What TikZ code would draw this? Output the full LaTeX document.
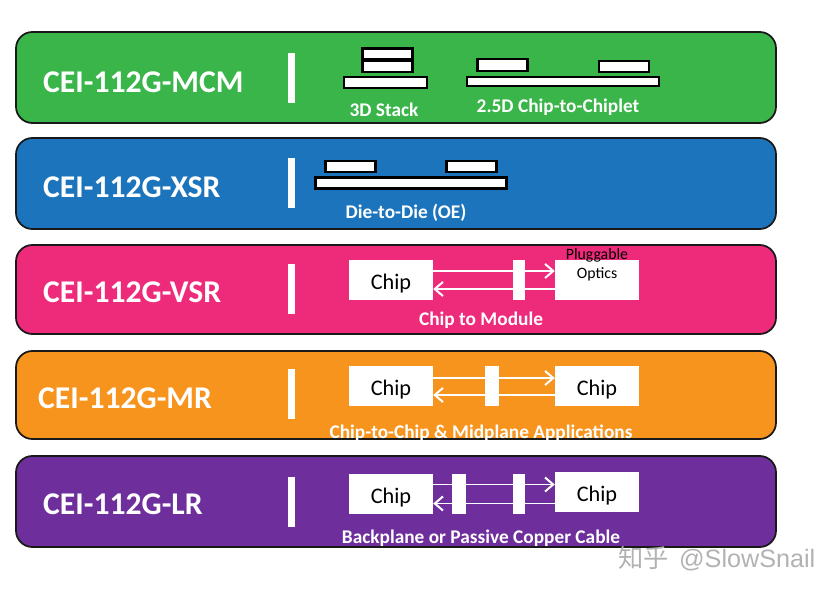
\documentclass[tikz,border=0pt]{standalone}
\usepackage{fontspec}
\setmainfont{Carlito}
\newfontfamily\cjkfont{Noto Sans CJK SC}
\newfontfamily\markfont{Liberation Sans}
\usepackage{xcolor}
\usetikzlibrary{arrows.meta, positioning}
\definecolor{mcmgreen}{HTML}{3AB54A}
\definecolor{xsrblue}{HTML}{1C75BC}
\definecolor{vsrpink}{HTML}{EE2A7B}
\definecolor{mrorange}{HTML}{F7941E}
\definecolor{lrpurple}{HTML}{6E2F9C}
\def\px{0.03cm}

\begin{document}
\begin{tikzpicture}[
      x=0.03cm, y=-0.03cm,
      band/.style={draw=black!90, line width=1.5pt, rounded corners=14pt,
                  minimum width=760*\px, inner sep=0pt},
      rowtitle/.style={anchor=west, text=white, font=\fontsize{27}{27}\selectfont\bfseries, inner sep=0pt},
      sepbar/.style={fill=white, minimum width=7*\px, minimum height=50*\px, inner sep=0pt},
      lbl/.style={text=white, font=\fontsize{16.5}{16.5}\selectfont\bfseries, inner sep=0pt},
      die/.style={draw=black, fill=white, line width=2.2pt, minimum width=50*\px, minimum height=11*\px, inner sep=0pt},
      subst/.style={draw=black, fill=white, line width=2.2pt, minimum height=10*\px, inner sep=0pt},
      chip/.style={fill=white, minimum width=84*\px, minimum height=40*\px, inner sep=0pt,
                  align=center, text height=17pt, text depth=0pt, font=\fontsize{19}{19}\selectfont},
      via/.style={fill=white, minimum height=40*\px, inner sep=0pt},
      sig/.style={-{Straight Barb[length=7pt,width=12pt]}, white, line width=1.7pt}
    ]
    \useasboundingbox (0,0) rectangle (833,593);

    % --- Coloured rows ---
    \node[band, fill=mcmgreen, minimum height=91*\px]  (mcm) at (396,77.5)  {};
    \node[band, fill=xsrblue,  minimum height=91*\px]  (xsr) at (396,183.5) {};
    \node[band, fill=vsrpink,  minimum height=89*\px]  (vsr) at (396,289.5) {};
    \node[band, fill=mrorange, minimum height=88*\px]  (mr)  at (396,395)   {};
    \node[band, fill=lrpurple, minimum height=91*\px]  (lr)  at (396,501.5) {};

    % --- Row titles ---
    \node[rowtitle] (mcmt) at (43,82)  {CEI-112G-MCM};
    \node[rowtitle] (xsrt) at (43,187) {CEI-112G-XSR};
    \node[rowtitle] (vsrt) at (43,292) {CEI-112G-VSR};
    \node[rowtitle] (mrt)  at (38,398) {CEI-112G-MR};
    \node[rowtitle] (lrt)  at (43,504) {CEI-112G-LR};

    % --- Separators ---
    \node[sepbar] (mcms) at (291.5,78)  {};
    \node[sepbar] (xsrs) at (291.5,183.5) {};
    \node[sepbar] (vsrs) at (291.5,289) {};
    \node[sepbar] (mrs)  at (291.5,394) {};
    \node[sepbar] (lrs)  at (291.5,502) {};

    % --- MCM row ---
    \node[die]  (top)  at (387.5,54)   {};
    \node[die]  (mid)  at (387.5,66.5) {};
    \node[subst, minimum width=83*\px, minimum height=11*\px] (sub) at (385.5,82.5) {};
    \node[lbl]  (stack) at (384,109.5) {3D Stack};
    \node[die, minimum height=12*\px] (left)  at (502.5,65) {};
    \node[die]  (right) at (624,66.5) {};
    \node[subst, minimum width=192*\px, minimum height=9*\px] (long) at (563,81.5) {};
    \node[lbl]  (chiplet) at (558,107) {2.5D Chip-to-Chiplet};

    % --- XSR row ---
    \node[die]  (dia) at (350.5,166.5) {};
    \node[die]  (dib) at (471.5,166.5) {};
    \node[subst, minimum width=191*\px, minimum height=11*\px] (dis) at (411,183) {};
    \node[lbl]  (oe) at (406,212.5) {Die-to-Die (OE)};

    % --- VSR row ---
    \node[chip] (vsra) at (391,280) {Chip};
    \node[chip, font=\fontsize{13.5}{16.2}\selectfont, text height=14pt, text depth=17.4pt] (vsrb) at (597,280) {Pluggable\\Optics};
    \draw[sig] (vsra.east |- 0,271) -- (vsrb.west |- 0,271);
    \draw[sig] (vsrb.west |- 0,289) -- (vsra.east |- 0,289);
    \node[via, minimum width=12*\px] (vsrv) at (518.5,280) {};
    \node[lbl] (module) at (481,320) {Chip to Module};

    % --- MR row ---
    \node[chip] (mra) at (391,386) {Chip};
    \node[chip] (mrb) at (597,386) {Chip};
    \draw[sig] (mra.east |- 0,378) -- (mrb.west |- 0,378);
    \draw[sig] (mrb.west |- 0,395) -- (mra.east |- 0,395);
    \node[via, minimum width=14*\px] (mrv) at (491.5,386) {};
    \node[lbl] (midplane) at (481,433.5) {Chip-to-Chip \& Midplane Applications};

    % --- LR row ---
    \node[chip] (lra) at (391,494) {Chip};
    \node[chip] (lrb) at (597,492) {Chip};
    \draw[sig] (lra.east |- 0,484.5) -- (lrb.west |- 0,484.5);
    \draw[sig] (lrb.west |- 0,503.5) -- (lra.east |- 0,503.5);
    \node[via, minimum width=14*\px] (lrv)  at (459,494) {};
    \node[via, minimum width=12*\px] (lrw)  at (519,494) {};
    \node[lbl] (cable) at (481,538.5) {Backplane or Passive Copper Cable};

    % --- Watermark ---
    \node[anchor=west, text=black!30, inner sep=0pt, font=\fontsize{21.5}{21.5}\selectfont] (mark) at (618,559)
      {{\cjkfont 知乎}\hspace{9pt}{\markfont @SlowSnail}};

  \end{tikzpicture}
\end{document}
